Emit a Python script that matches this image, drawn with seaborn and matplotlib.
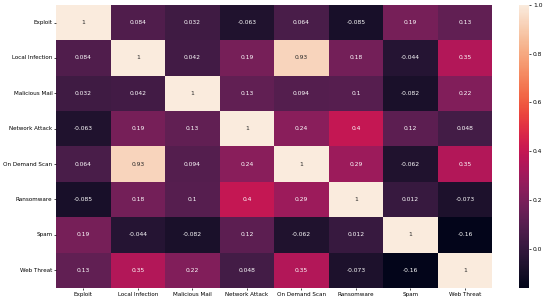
import numpy as np
import pandas as pd
import seaborn as sns
import matplotlib.pyplot as plt

labels = ["Exploit", "Local Infection", "Malicious Mail", "Network Attack",
          "On Demand Scan", "Ransomware", "Spam", "Web Threat"]

exploit = [1, 0.084, 0.032, -0.063, 0.064, -0.085, 0.19, 0.13]
local_infection = [0.084, 1, 0.042, 0.19, 0.93, 0.18, -0.044, 0.35]
malicious_mail = [0.032, 0.042, 1, 0.13, 0.094, 0.1, -0.082, 0.22]
network_attack = [-0.063, 0.19, 0.13, 1, 0.24, 0.4, 0.12, 0.048]
on_demand_scan = [0.064, 0.93, 0.094, 0.24, 1, 0.29, -0.062, 0.35]
ransomware = [-0.085, 0.18, 0.1, 0.4, 0.29, 1, 0.012, -0.073]
spam = [0.19, -0.044, -0.082, 0.12, -0.062, 0.012, 1, -0.16]
web_threat = [0.13, 0.35, 0.22, 0.048, 0.35, -0.073, -0.16, 1]

corr = pd.DataFrame([exploit, local_infection, malicious_mail, network_attack,
                     on_demand_scan, ransomware, spam, web_threat],
                    index=labels, columns=labels)

fig = plt.figure(figsize=(5.5, 3.05), dpi=100)
ax = fig.add_axes([0.102, 0.056, 0.793, 0.928])
cax = fig.add_axes([0.944, 0.056, 0.018, 0.928])

sns.heatmap(corr, annot=True, ax=ax, cbar_ax=cax, annot_kws={"size": 4.3})
ax.tick_params(labelsize=4.1, length=1.5, width=0.5, pad=1.2)
cax.tick_params(labelsize=4.3, length=1.5, width=0.5, pad=1.2)
ax.set_yticklabels(ax.get_yticklabels(), rotation=0)
ax.set_xticklabels(ax.get_xticklabels(), rotation=0)

fig.savefig("out.png", dpi=100)
